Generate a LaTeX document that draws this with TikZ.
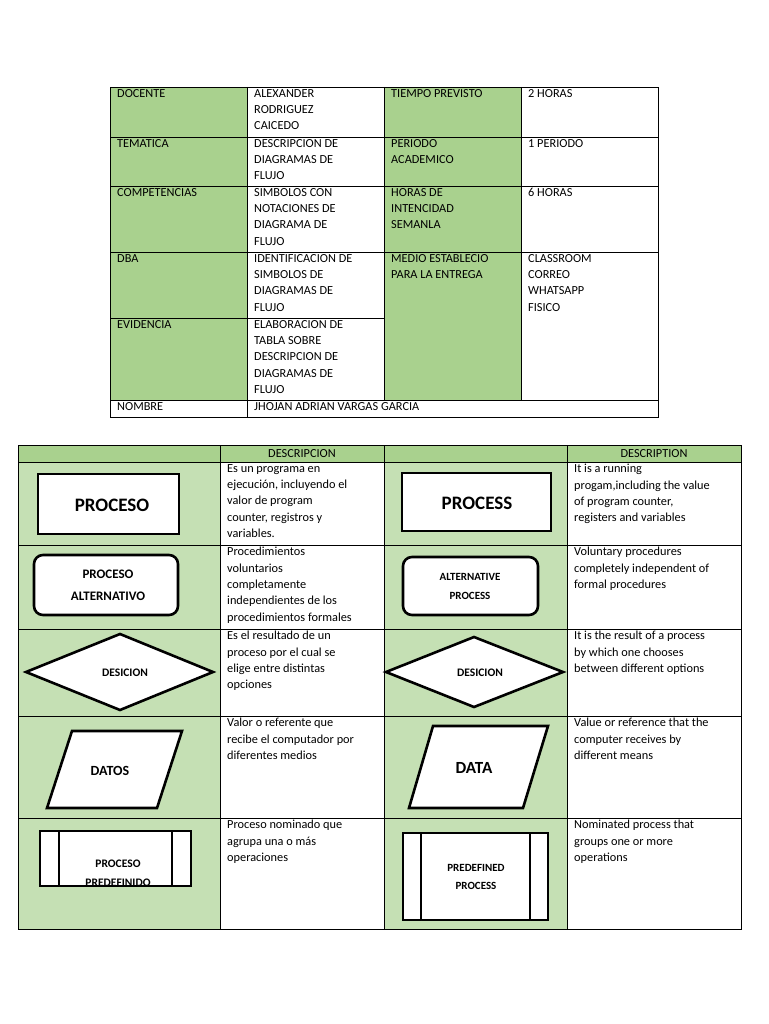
\documentclass[tikz,border=0pt]{standalone}
\usepackage{fontspec}
\setmainfont{Carlito}
\usetikzlibrary{shapes.geometric}
\definecolor{gA}{HTML}{A9D18E}
\definecolor{gB}{HTML}{C5E0B4}
\tikzset{
 cell/.style={anchor=north west,inner sep=0pt,align=left,font=\fontsize{12.3}{16.4}\selectfont},
 shp/.style={draw=black,line width=2.6pt,fill=white},
 lbl/.style={font=\bfseries\fontsize{13}{22}\selectfont,align=center},
 grid/.style={draw=black,line width=0.6pt}
}
\begin{document}
\begin{tikzpicture}[x=1pt,y=-1pt]
\useasboundingbox (0,0) rectangle (768,1024);
% top table fills
\fill[gA] (110,87) rectangle (247,400);
\fill[gA] (384,87) rectangle (521,400);
% top grid
\draw[grid] (110,87) rectangle (658,417);
\foreach \y in {137,186,252,318}{\draw[grid] (110,\y) -- (384,\y);}
\foreach \y in {137,186,252}{\draw[grid] (384,\y) -- (658,\y);}
\draw[grid] (110,400) -- (658,400);
\draw[grid] (247,87) -- (247,417);
\draw[grid] (384,87) -- (384,400);
\draw[grid] (521,87) -- (521,400);
\node[cell] (t1) at (117,89) {DOCENTE};
\node[cell] (t2) at (117,139) {TEMATICA};
\node[cell] (t3) at (117,188) {COMPETENCIAS};
\node[cell] (t4) at (117,254) {DBA};
\node[cell] (t5) at (117,320) {EVIDENCIA};
\node[cell] (t6) at (117,402) {NOMBRE};
\node[cell] (u1) at (254,89) {ALEXANDER\\RODRIGUEZ\\CAICEDO};
\node[cell] (u2) at (254,139) {DESCRIPCION DE\\DIAGRAMAS DE\\FLUJO};
\node[cell] (u3) at (254,188) {SIMBOLOS CON\\NOTACIONES DE\\DIAGRAMA DE\\FLUJO};
\node[cell] (u4) at (254,254) {IDENTIFICACION DE\\SIMBOLOS DE\\DIAGRAMAS DE\\FLUJO};
\node[cell] (u5) at (254,320) {ELABORACION DE\\TABLA SOBRE\\DESCRIPCION DE\\DIAGRAMAS DE\\FLUJO};
\node[cell] (u6) at (254,402) {JHOJAN ADRIAN VARGAS GARCIA};
\node[cell] (v1) at (391,89) {TIEMPO PREVISTO};
\node[cell] (v2) at (391,139) {PERIODO\\ACADEMICO};
\node[cell] (v3) at (391,188) {HORAS DE\\INTENCIDAD\\SEMANLA};
\node[cell] (v4) at (391,254) {MEDIO ESTABLECIO\\PARA LA ENTREGA};
\node[cell] (w1) at (528,89) {2 HORAS};
\node[cell] (w2) at (528,139) {1 PERIODO};
\node[cell] (w3) at (528,188) {6 HORAS};
\node[cell] (w4) at (528,254) {CLASSROOM\\CORREO\\WHATSAPP\\FISICO};
% bottom table
\fill[gA] (18,445) rectangle (741,462);
\fill[gB] (18,462) rectangle (220,929);
\fill[gB] (384,462) rectangle (567,929);
\draw[grid] (18,445) rectangle (741,929);
\foreach \y in {462,545,629,716,818}{\draw[grid] (18,\y) -- (741,\y);}
\foreach \x in {220,384,567}{\draw[grid] (\x,445) -- (\x,929);}
\node[font=\fontsize{12.3}{14}\selectfont] (h1) at (302,453.5) {DESCRIPCION};
\node[font=\fontsize{12.3}{14}\selectfont] (h2) at (654,453.5) {DESCRIPTION};
\node[cell] (d1) at (227,464) {Es un programa en\\ejecución, incluyendo el\\valor de program\\counter, registros y\\variables.};
\node[cell] (d2) at (227,547) {Procedimientos\\voluntarios\\completamente\\independientes de los\\procedimientos formales};
\node[cell] (d3) at (227,631) {Es el resultado de un\\proceso por el cual se\\elige entre distintas\\opciones};
\node[cell] (d4) at (227,718) {Valor o referente que\\recibe el computador por\\diferentes medios};
\node[cell] (d5) at (227,820) {Proceso nominado que\\agrupa una o más\\operaciones};
\node[cell] (e1) at (574,464) {It is a running\\progam,including the value\\of program counter,\\registers and variables};
\node[cell] (e2) at (574,547) {Voluntary procedures\\completely independent of\\formal procedures};
\node[cell] (e3) at (574,631) {It is the result of a process\\by which one chooses\\between different options};
\node[cell] (e4) at (574,718) {Value or reference that the\\computer receives by\\different means};
\node[cell] (e5) at (574,820) {Nominated process that\\groups one or more\\operations};
% left shapes
\draw[shp] (38,474) rectangle (179,534);
\node[font=\bfseries\fontsize{19}{22}\selectfont] (s1) at (112,505) {PROCESO};
\draw[shp,rounded corners=9pt] (34,555) rectangle (178,615);
\node[lbl] (s2) at (108,585) {PROCESO\\ALTERNATIVO};
\draw[shp] (26,672) -- (120,634) -- (213,672) -- (120,710) -- cycle;
\node[font=\bfseries\fontsize{11.5}{14}\selectfont] (s3) at (125,673) {DESICION};
\draw[shp] (72,731) -- (182,731) -- (157,808) -- (47,808) -- cycle;
\node[font=\bfseries\fontsize{14}{16}\selectfont] (s4) at (110,771) {DATOS};
\draw[shp] (40,831) rectangle (191,886);
\draw[shp] (59,831) -- (59,886) (172,831) -- (172,886);
\node[font=\bfseries\fontsize{11.5}{19}\selectfont,align=center] (s5) at (118,873) {PROCESO\\PREDEFINIDO};
% right shapes
\draw[shp] (402,473) rectangle (551,531);
\node[font=\bfseries\fontsize{19}{22}\selectfont] (r1) at (477,503) {PROCESS};
\draw[shp,rounded corners=9pt] (403,557) rectangle (538,615);
\node[font=\bfseries\fontsize{11}{19}\selectfont,align=center] (r2) at (470,586) {ALTERNATIVE\\PROCESS};
\draw[shp] (386,672) -- (474,637) -- (563,672) -- (474,707) -- cycle;
\node[font=\bfseries\fontsize{11.5}{14}\selectfont] (r3) at (480,673) {DESICION};
\draw[shp] (433,726) -- (548,726) -- (523,808) -- (409,808) -- cycle;
\node[font=\bfseries\fontsize{17}{20}\selectfont] (r4) at (474,768) {DATA};
\draw[shp] (403,833) rectangle (548,920);
\draw[shp] (421,833) -- (421,920) (530,833) -- (530,920);
\node[font=\bfseries\fontsize{11}{18}\selectfont,align=center] (r5) at (476,877) {PREDEFINED\\PROCESS};
\end{tikzpicture}
\end{document}
